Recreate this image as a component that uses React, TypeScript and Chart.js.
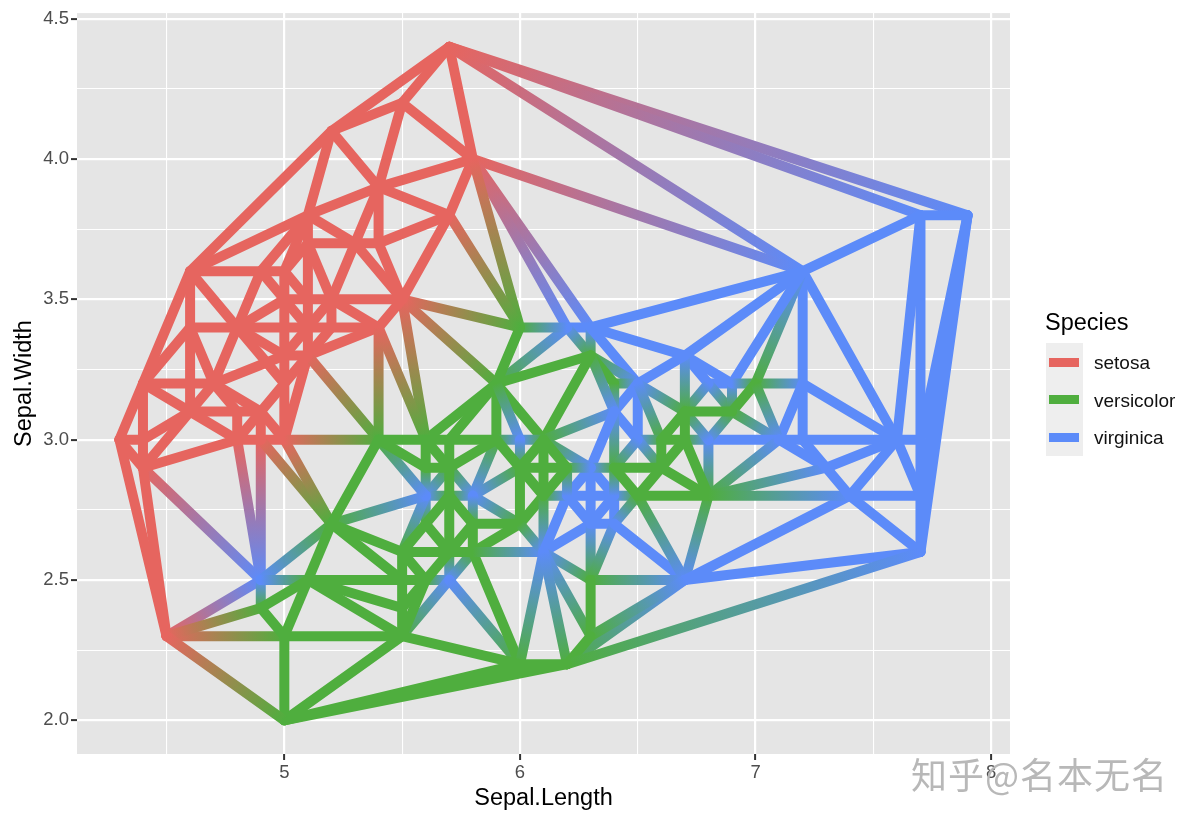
import React, { useEffect, useRef } from "react";
import { Chart, registerables } from "chart.js";

Chart.register(...registerables);

const setosaLength = [5.1,4.9,4.7,4.6,5.0,5.4,4.6,5.0,4.4,4.9,5.4,4.8,4.8,4.3,5.8,5.7,5.4,5.1,5.7,5.1,5.4,5.1,4.6,5.1,4.8,5.0,5.0,5.2,5.2,4.7,4.8,5.4,5.2,5.5,4.9,5.0,5.5,4.9,4.4,5.1,5.0,4.5,4.4,5.0,5.1,4.8,5.1,4.6,5.3,5.0];
const setosaWidth = [3.5,3.0,3.2,3.1,3.6,3.9,3.4,3.4,2.9,3.1,3.7,3.4,3.0,3.0,4.0,4.4,3.9,3.5,3.8,3.8,3.4,3.7,3.6,3.3,3.4,3.0,3.4,3.5,3.4,3.2,3.1,3.4,4.1,4.2,3.1,3.2,3.5,3.6,3.0,3.4,3.5,2.3,3.2,3.5,3.8,3.0,3.8,3.2,3.7,3.3];
const versicolorLength = [7.0,6.4,6.9,5.5,6.5,5.7,6.3,4.9,6.6,5.2,5.0,5.9,6.0,6.1,5.6,6.7,5.6,5.8,6.2,5.6,5.9,6.1,6.3,6.1,6.4,6.6,6.8,6.7,6.0,5.7,5.5,5.5,5.8,6.0,5.4,6.0,6.7,6.3,5.6,5.5,5.5,6.1,5.8,5.0,5.6,5.7,5.7,6.2,5.1,5.7];
const versicolorWidth = [3.2,3.2,3.1,2.3,2.8,2.8,3.3,2.4,2.9,2.7,2.0,3.0,2.2,2.9,2.9,3.1,3.0,2.7,2.2,2.5,3.2,2.8,2.5,2.8,2.9,3.0,2.8,3.0,2.9,2.6,2.4,2.4,2.7,2.7,3.0,3.4,3.1,2.3,3.0,2.5,2.6,3.0,2.6,2.3,2.7,3.0,2.9,2.9,2.5,2.8];
const virginicaLength = [6.3,5.8,7.1,6.3,6.5,7.6,4.9,7.3,6.7,7.2,6.5,6.4,6.8,5.7,5.8,6.4,6.5,7.7,7.7,6.0,6.9,5.6,7.7,6.3,6.7,7.2,6.2,6.1,6.4,7.2,7.4,7.9,6.4,6.3,6.1,7.7,6.3,6.4,6.0,6.9,6.7,6.9,5.8,6.8,6.7,6.7,6.3,6.5,6.2,5.9];
const virginicaWidth = [3.3,2.7,3.0,2.9,3.0,3.0,2.5,2.9,2.5,3.6,3.2,2.7,3.0,2.5,2.8,3.2,3.0,3.8,2.6,2.2,3.2,2.8,2.8,2.7,3.3,3.2,2.8,3.0,2.8,3.0,2.8,3.8,2.8,2.8,2.6,3.0,3.4,3.1,3.0,3.1,3.1,3.1,2.7,3.2,3.3,3.0,2.5,3.0,3.4,3.0];

const speciesNames = ["setosa", "versicolor", "virginica"];
const speciesColors = ["#E6655F", "#4FAE3E", "#5C8BF9"];
const xTickValues = [4.5, 5, 5.5, 6, 6.5, 7, 7.5, 8];
const yTickValues = [2, 2.25, 2.5, 2.75, 3, 3.25, 3.5, 3.75, 4, 4.25, 4.5];

// Cocircular ties: edges, as [length, width, length, width]
const tieRemoved = [
  [4.9, 2.4, 5.0, 2.0],
  [4.8, 3.4, 4.9, 3.1],
  [5.0, 3.2, 5.4, 3.0],
  [7.2, 3.2, 7.3, 2.9],
  [5.3, 3.7, 5.4, 3.4],
  [5.4, 3.7, 5.4, 3.4],
  [5.4, 3.7, 5.2, 3.5],
];
const tieAdded = [
  [4.5, 2.3, 5.0, 2.3],
  [4.7, 3.2, 5.0, 3.3],
  [5.0, 3.0, 5.1, 3.3],
  [7.2, 3.0, 7.6, 3.0],
  [5.3, 3.7, 5.5, 3.5],
  [5.2, 3.5, 5.5, 3.5],
];
// Observations whose unit-square diagonals radiate from them in the picture
const diagonalHubs = [
  [5.1, 3.4], [5.7, 2.9], [6.1, 3.0], [6.0, 2.9], [6.1, 2.8], [6.4, 2.9],
  [6.6, 2.9], [6.5, 2.8], [5.7, 2.6], [6.7, 3.1], [6.3, 2.9], [6.4, 2.8],
];

type Pt = { x: number; y: number; s: number };

function uniquePoints(): Pt[] {
  const out: Pt[] = [];
  const seen = new Set<string>();
  const groups = [[setosaLength, setosaWidth], [versicolorLength, versicolorWidth], [virginicaLength, virginicaWidth]];
  groups.forEach(([xs, ys], s) => {
    xs.forEach((x, i) => {
      const k = x + "," + ys[i];
      if (!seen.has(k)) {
        seen.add(k);
        out.push({ x, y: ys[i], s });
      }
    });
  });
  return out;
}

// Serpentine bin order over the window: decides how cocircular ties resolve
function binOrder(pts: Pt[]): Pt[] {
  const xs = pts.map((p) => p.x), ys = pts.map((p) => p.y);
  const x0 = Math.min(...xs), x1 = Math.max(...xs), y0 = Math.min(...ys), y1 = Math.max(...ys);
  const xmin = x0 - 0.1 * (x1 - x0), xmax = x1 + 0.1 * (x1 - x0);
  const ymin = y0 - 0.1 * (y1 - y0), ymax = y1 + 0.1 * (y1 - y0);
  const kdiv = Math.floor(1 + Math.pow(pts.length, 0.25));
  const dw = (xmax - xmin) / kdiv, dh = (ymax - ymin) / kdiv;
  const out: Pt[] = [];
  let kx = 1, ky = 1, ink = 1;
  while (ky <= kdiv) {
    pts.forEach((p) => {
      const ix = Math.min(kdiv, Math.floor(1 + (p.x - xmin) / dw));
      const jy = Math.min(kdiv, Math.floor(1 + (p.y - ymin) / dh));
      if (ix === kx && jy === ky) out.push(p);
    });
    const kc = kx + ink;
    if (kc >= 1 && kc <= kdiv) kx = kc;
    else { ky += 1; ink = -ink; }
  }
  return out;
}

// Delaunay triangulation of the observations (the edges the chart shows)
function delaunayEdges(pts: Pt[]): [number, number][] {
  const P = pts.map((p) => [Math.round(p.x * 10), Math.round(p.y * 10)]);
  const n = P.length;
  const B = 1e6;
  P.push([-B, -B], [B, -B], [0, B]);
  let tris: number[][] = [[n, n + 1, n + 2]];
  const inCircle = (t: number[], q: number[]) => {
    const [a, b, c] = t.map((i) => P[i]);
    const ax = a[0] - q[0], ay = a[1] - q[1];
    const bx = b[0] - q[0], by = b[1] - q[1];
    const cx = c[0] - q[0], cy = c[1] - q[1];
    const det =
      (ax * ax + ay * ay) * (bx * cy - cx * by) -
      (bx * bx + by * by) * (ax * cy - cx * ay) +
      (cx * cx + cy * cy) * (ax * by - bx * ay);
    const area = (b[0] - a[0]) * (c[1] - a[1]) - (b[1] - a[1]) * (c[0] - a[0]);
    return area > 0 ? det > 0 : det < 0;
  };
  for (let i = 0; i < n; i++) {
    const bad = tris.filter((t) => inCircle(t, P[i]));
    const count = new Map<string, number>();
    const add = (u: number, v: number) => {
      const k = Math.min(u, v) + "_" + Math.max(u, v);
      count.set(k, (count.get(k) || 0) + 1);
    };
    bad.forEach((t) => { add(t[0], t[1]); add(t[1], t[2]); add(t[2], t[0]); });
    tris = tris.filter((t) => !bad.includes(t));
    count.forEach((c, k) => {
      if (c === 1) {
        const [u, v] = k.split("_").map(Number);
        tris.push([u, v, i]);
      }
    });
  }
  const edges = new Set<string>();
  tris.forEach((t) => {
    [[t[0], t[1]], [t[1], t[2]], [t[2], t[0]]].forEach(([u, v]) => {
      if (u < n && v < n) edges.add(Math.min(u, v) + "_" + Math.max(u, v));
    });
  });

  // Settle ties the way the picture does
  const id = new Map<string, number>();
  pts.forEach((p, i) => id.set(Math.round(p.x * 10) + "," + Math.round(p.y * 10), i));
  const at = (x: number, y: number) => id.get(x + "," + y);
  const keyOf = (u: number, v: number) => Math.min(u, v) + "_" + Math.max(u, v);
  diagonalHubs.forEach(([hx, hy]) => {
    const x = Math.round(hx * 10), y = Math.round(hy * 10);
    [[1, 1], [1, -1], [-1, 1], [-1, -1]].forEach(([dx, dy]) => {
      const h = at(x, y), d = at(x + dx, y + dy), p = at(x + dx, y), q = at(x, y + dy);
      if (h === undefined || d === undefined || p === undefined || q === undefined) return;
      edges.delete(keyOf(p, q));
      edges.add(keyOf(h, d));
    });
  });
  const pair = (e: number[]) => {
    const u = at(Math.round(e[0] * 10), Math.round(e[1] * 10));
    const v = at(Math.round(e[2] * 10), Math.round(e[3] * 10));
    return u === undefined || v === undefined ? null : keyOf(u, v);
  };
  tieRemoved.forEach((e) => { const k = pair(e); if (k) edges.delete(k); });
  tieAdded.forEach((e) => { const k = pair(e); if (k) edges.add(k); });

  return [...edges].map((k) => k.split("_").map(Number) as [number, number]);
}

export default function App() {
  const ref = useRef<HTMLCanvasElement>(null);

  useEffect(() => {
    document.body.style.margin = "0";
    const pts = binOrder(uniquePoints());
    const edges = delaunayEdges(pts);

    const datasets = edges.map(([a, b]) => ({
      data: [{ x: pts[a].x, y: pts[a].y }, { x: pts[b].x, y: pts[b].y }],
      borderWidth: 10,
      borderCapStyle: "round",
      pointRadius: 0,
      tension: 0,
      borderColor: (c: any) => {
        const { scales, ctx } = c.chart;
        if (!scales.x || !scales.y || !c.chart.chartArea) return speciesColors[pts[a].s];
        const g = ctx.createLinearGradient(
          scales.x.getPixelForValue(pts[a].x), scales.y.getPixelForValue(pts[a].y),
          scales.x.getPixelForValue(pts[b].x), scales.y.getPixelForValue(pts[b].y)
        );
        g.addColorStop(0, speciesColors[pts[a].s]);
        g.addColorStop(1, speciesColors[pts[b].s]);
        return g;
      },
    }));

    const panel = {
      id: "panel",
      beforeDraw(chart: any) {
        const { ctx, chartArea: a } = chart;
        ctx.save();
        ctx.fillStyle = "#E5E5E5";
        ctx.fillRect(a.left, a.top, a.right - a.left, a.bottom - a.top);
        ctx.restore();
      },
    };

    const font = "'Liberation Sans', Arial, sans-serif";
    const axis = (values: number[], isMajor: (v: number) => boolean, label: (v: number) => string, title: string, padding: any) => ({
      type: "linear",
      afterBuildTicks: (s: any) => { s.ticks = values.map((value) => ({ value })); },
      border: { display: false },
      grid: {
        color: "#FFFFFF",
        lineWidth: (c: any) => (isMajor(c.tick.value) ? 2.2 : 1.1),
        tickLength: 6,
        tickWidth: 2,
        tickColor: (c: any) => (isMajor(c.tick.value) ? "#333333" : "rgba(0,0,0,0)"),
      },
      ticks: {
        autoSkip: false,
        maxRotation: 0,
        padding: 2,
        color: "#4D4D4D",
        font: { family: font, size: 18.5 },
        callback: (v: number) => (isMajor(v) ? label(v) : ""),
      },
      title: { display: true, text: title, color: "#000000", font: { family: font, size: 23.5 }, padding },
    });

    const chart = new Chart(ref.current!, {
      type: "line",
      data: { datasets } as any,
      plugins: [panel],
      options: {
        responsive: false,
        animation: false,
        layout: { padding: { top: 12, right: 190, left: 0, bottom: 0 } },
        plugins: { legend: { display: false }, tooltip: { enabled: false } },
        scales: {
          x: {
            ...axis(xTickValues, (v) => Number.isInteger(v), (v) => String(v), "Sepal.Length", { top: 4, bottom: 9 }),
            min: 4.12,
            max: 8.08,
            afterFit: (s: any) => { s.height = 68; },
          },
          y: {
            ...axis(yTickValues, (v) => Number.isInteger(v * 2), (v) => v.toFixed(1), "Sepal.Width", { top: 10, bottom: 0 }),
            min: 1.88,
            max: 4.52,
            afterFit: (s: any) => { s.width = 77; },
          },
        } as any,
      } as any,
    });
    return () => chart.destroy();
  }, []);

  const abs = (s: React.CSSProperties): React.CSSProperties => ({ position: "absolute", whiteSpace: "nowrap", ...s });
  const sans = "'Liberation Sans', Arial, sans-serif";
  return (
    <div style={{ position: "relative", width: 1200, height: 822, overflow: "hidden" }}>
      <canvas ref={ref} width={1200} height={822} style={{ display: "block" }} />
      <div style={abs({ left: 1045, top: 308, fontFamily: sans, fontSize: 23.5, lineHeight: "28px", color: "#000" })}>Species</div>
      <div style={abs({ left: 1046, top: 343, width: 37, height: 113, background: "#EEEEEE" })} />
      {speciesNames.map((name, i) => (
        <React.Fragment key={name}>
          <div style={abs({ left: 1049, top: 357.5 + i * 37.5, width: 30, height: 9, background: speciesColors[i] })} />
          <div style={abs({ left: 1094, top: 352 + i * 37.5, fontFamily: sans, fontSize: 19, lineHeight: "22px", color: "#111" })}>{name}</div>
        </React.Fragment>
      ))}
      <div style={abs({ left: 911, top: 750, fontFamily: "'Noto Sans CJK SC', sans-serif", fontSize: 36, lineHeight: "46px", color: "#B8B8B8", letterSpacing: 1 })}>知乎@名本无名</div>
    </div>
  );
}
